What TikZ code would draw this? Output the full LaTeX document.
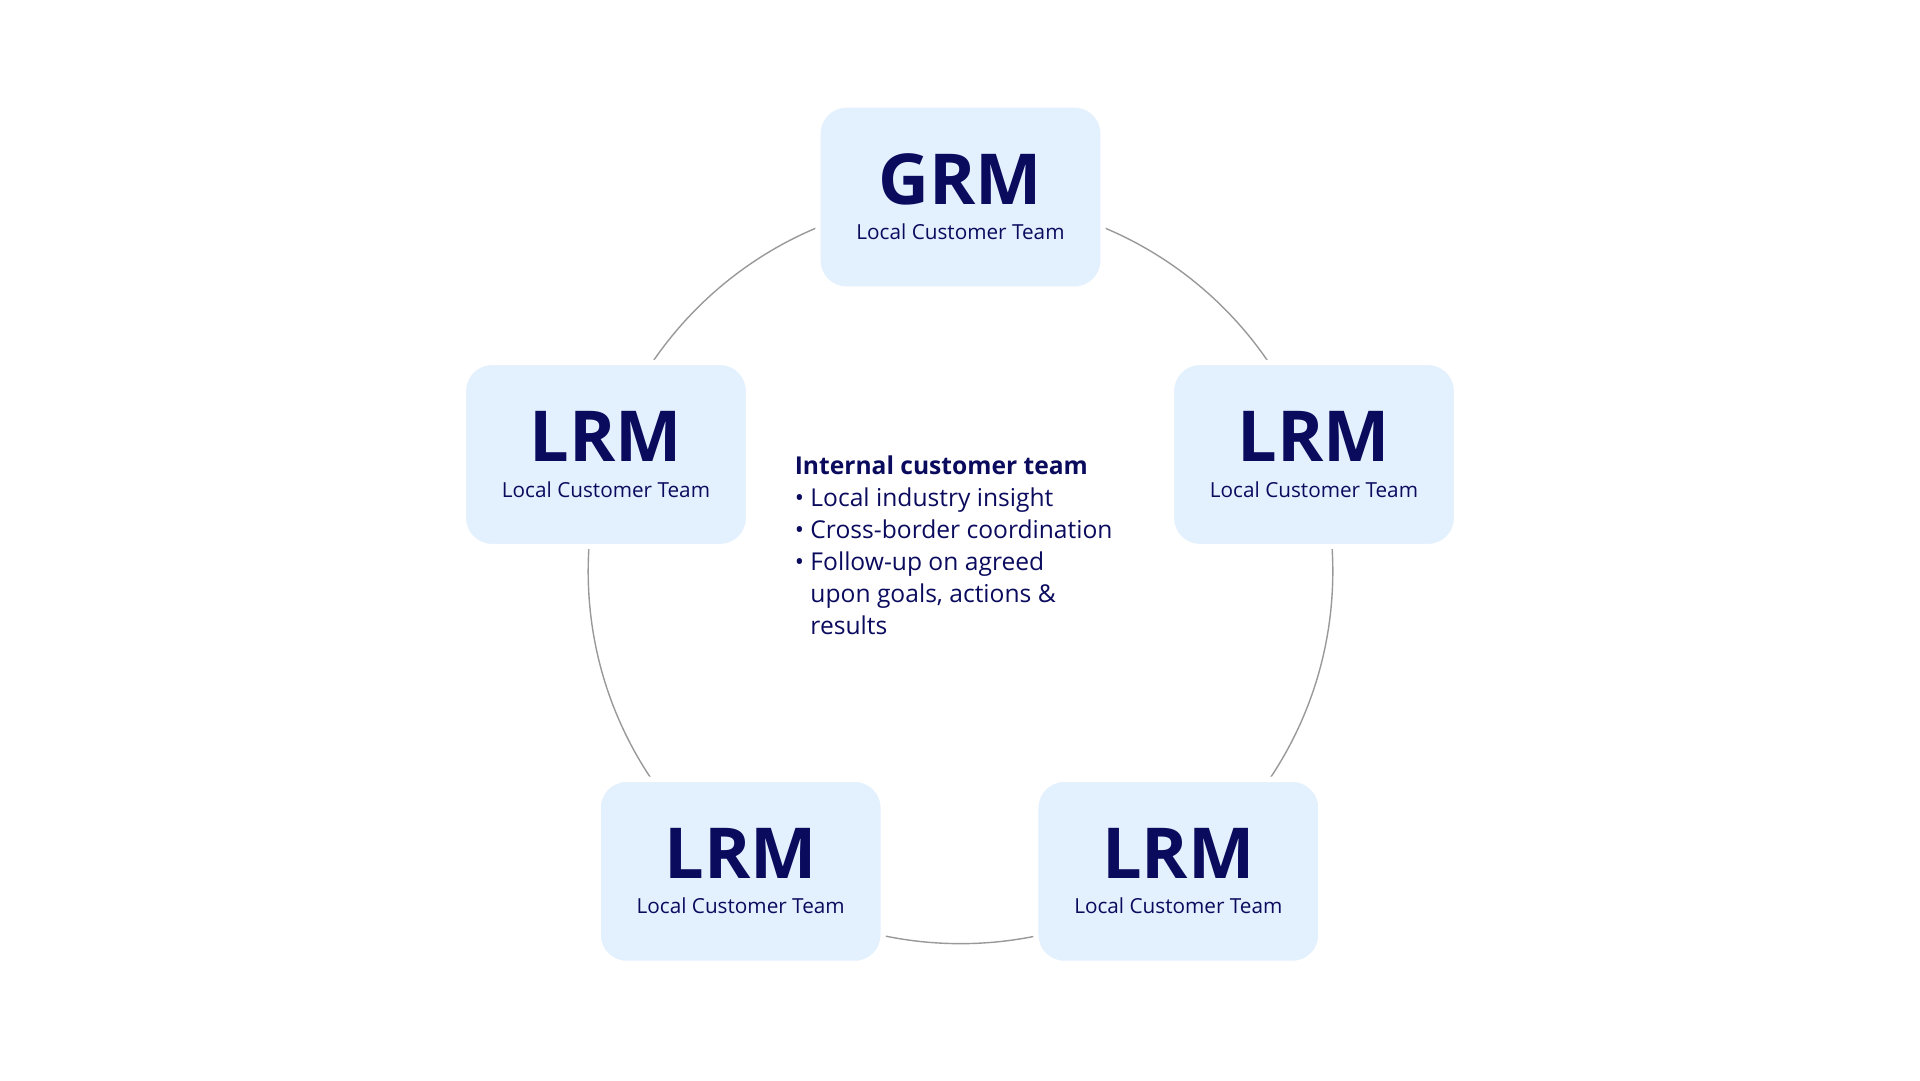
\documentclass[tikz,border=0pt]{standalone}
\usepackage{fontspec}
\setmainfont{Open Sans}
\definecolor{navy}{HTML}{0B0B5E}
\definecolor{boxblue}{HTML}{E3F0FD}
\begin{document}
\begin{tikzpicture}[x=0.0099cm,y=-0.0099cm,
  team/.style={fill=boxblue,draw=white,line width=1.5pt,rounded corners=8pt,
    minimum width=2.85cm,minimum height=1.84cm,align=center,text=navy,
    font=\fontsize{5.9}{8}\selectfont},
  role/.style={font=\fontsize{21}{22}\selectfont\bfseries}]
  \useasboundingbox (0,0) rectangle (1939,1091);
  \draw[gray!80,line width=0.4pt] (970,577) circle (376);
  \node[team] (grm) at (970,199) {{\fontsize{20}{22}\selectfont\bfseries GRM}\\[2pt]Local Customer Team};
  \node[team] (lrmw) at (612,459) {{\fontsize{20}{22}\selectfont\bfseries LRM}\\[2pt]Local Customer Team};
  \node[team] (lrme) at (1327,459) {{\fontsize{20}{22}\selectfont\bfseries LRM}\\[2pt]Local Customer Team};
  \node[team] (lrmsw) at (748,880) {{\fontsize{20}{22}\selectfont\bfseries LRM}\\[2pt]Local Customer Team};
  \node[team] (lrmse) at (1190,880) {{\fontsize{20}{22}\selectfont\bfseries LRM}\\[2pt]Local Customer Team};
  \node[anchor=north west,text=navy,align=left,inner sep=0pt,
    font=\fontsize{7}{9.1}\selectfont] (info) at (802,460)
    {\textbf{Internal customer team}\\
     \textbullet\ Local industry insight\\
     \textbullet\ Cross-border coordination\\
     \textbullet\ Follow-up on agreed\\
     \phantom{\textbullet\ }upon goals, actions \&\\
     \phantom{\textbullet\ }results};
\end{tikzpicture}
\end{document}
